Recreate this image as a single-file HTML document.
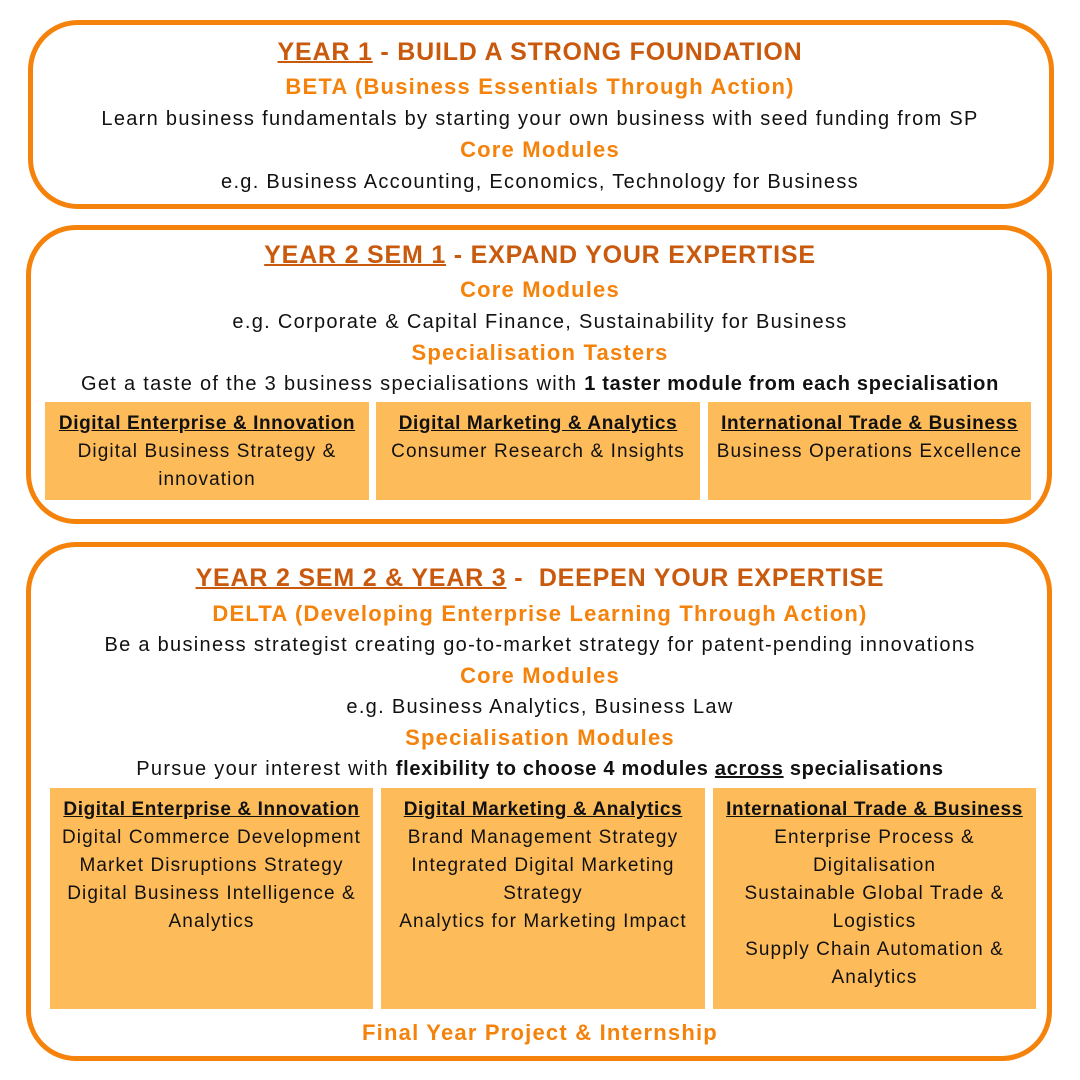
<!DOCTYPE html>
<html><head><meta charset="utf-8"><style>
body{margin:0;width:1080px;height:1080px;background:#fff;position:relative;font-family:"Liberation Sans",sans-serif;overflow:hidden}
.box{position:absolute;border:5px solid #f5820a;border-radius:50px;box-sizing:border-box}
.t{position:absolute;left:0;width:1080px;text-align:center;white-space:nowrap;line-height:30px}
.h{font-size:25px;font-weight:bold;color:#c9590c;letter-spacing:0.8px}
.h u{text-decoration-thickness:2px}
.s{font-size:22px;font-weight:bold;color:#f5820a;letter-spacing:1.2px}
.b{font-size:20px;color:#111;letter-spacing:1.3px}
.b b{letter-spacing:0.7px}
.p{position:absolute;background:#fdbb5a;text-align:center;font-size:19px;line-height:28px;color:#111;padding-top:8px;box-sizing:border-box;letter-spacing:1.1px}
.p b{text-decoration:underline;display:block;letter-spacing:0.6px}
</style></head><body>
<div class="box" style="left:28px;top:20px;width:1026px;height:189px"></div>
<div class="t h" style="top:37px"><u>YEAR 1</u> - BUILD A STRONG FOUNDATION</div>
<div class="t s" style="top:72px">BETA (Business Essentials Through Action)</div>
<div class="t b" style="top:104px">Learn business fundamentals by starting your own business with seed funding from SP</div>
<div class="t s" style="top:135px">Core Modules</div>
<div class="t b" style="top:167px">e.g. Business Accounting, Economics, Technology for Business</div>

<div class="box" style="left:26px;top:225px;width:1026px;height:299px"></div>
<div class="t h" style="top:240px"><u>YEAR 2 SEM 1</u> - EXPAND YOUR EXPERTISE</div>
<div class="t s" style="top:275px">Core Modules</div>
<div class="t b" style="top:307px">e.g. Corporate &amp; Capital Finance, Sustainability for Business</div>
<div class="t s" style="top:338px">Specialisation Tasters</div>
<div class="t b" style="top:369px">Get a taste of the 3 business specialisations with <b>1 taster module from each specialisation</b></div>
<div class="p" style="left:45px;top:402px;width:324px;height:98px"><b>Digital Enterprise &amp; Innovation</b>Digital Business Strategy &amp;<br>innovation</div>
<div class="p" style="left:376px;top:402px;width:324px;height:98px"><b>Digital Marketing &amp; Analytics</b>Consumer Research &amp; Insights</div>
<div class="p" style="left:708px;top:402px;width:323px;height:98px"><b>International Trade &amp; Business</b>Business Operations Excellence</div>

<div class="box" style="left:26px;top:542px;width:1026px;height:519px"></div>
<div class="t h" style="top:563px"><u>YEAR 2 SEM 2 &amp; YEAR 3</u> -&nbsp; DEEPEN YOUR EXPERTISE</div>
<div class="t s" style="top:599px">DELTA (Developing Enterprise Learning Through Action)</div>
<div class="t b" style="top:630px">Be a business strategist creating go-to-market strategy for patent-pending innovations</div>
<div class="t s" style="top:661px">Core Modules</div>
<div class="t b" style="top:692px">e.g. Business Analytics, Business Law</div>
<div class="t s" style="top:723px">Specialisation Modules</div>
<div class="t b" style="top:754px">Pursue your interest with <b>flexibility to choose 4 modules <u>across</u> specialisations</b></div>
<div class="p" style="left:50px;top:788px;width:323px;height:221px"><b>Digital Enterprise &amp; Innovation</b>Digital Commerce Development<br>Market Disruptions Strategy<br>Digital Business Intelligence &amp;<br>Analytics</div>
<div class="p" style="left:381px;top:788px;width:324px;height:221px"><b>Digital Marketing &amp; Analytics</b>Brand Management Strategy<br>Integrated Digital Marketing<br>Strategy<br>Analytics for Marketing Impact</div>
<div class="p" style="left:713px;top:788px;width:323px;height:221px"><b>International Trade &amp; Business</b>Enterprise Process &amp;<br>Digitalisation<br>Sustainable Global Trade &amp;<br>Logistics<br>Supply Chain Automation &amp;<br>Analytics</div>
<div class="t s" style="top:1018px">Final Year Project &amp; Internship</div>
</body></html>
